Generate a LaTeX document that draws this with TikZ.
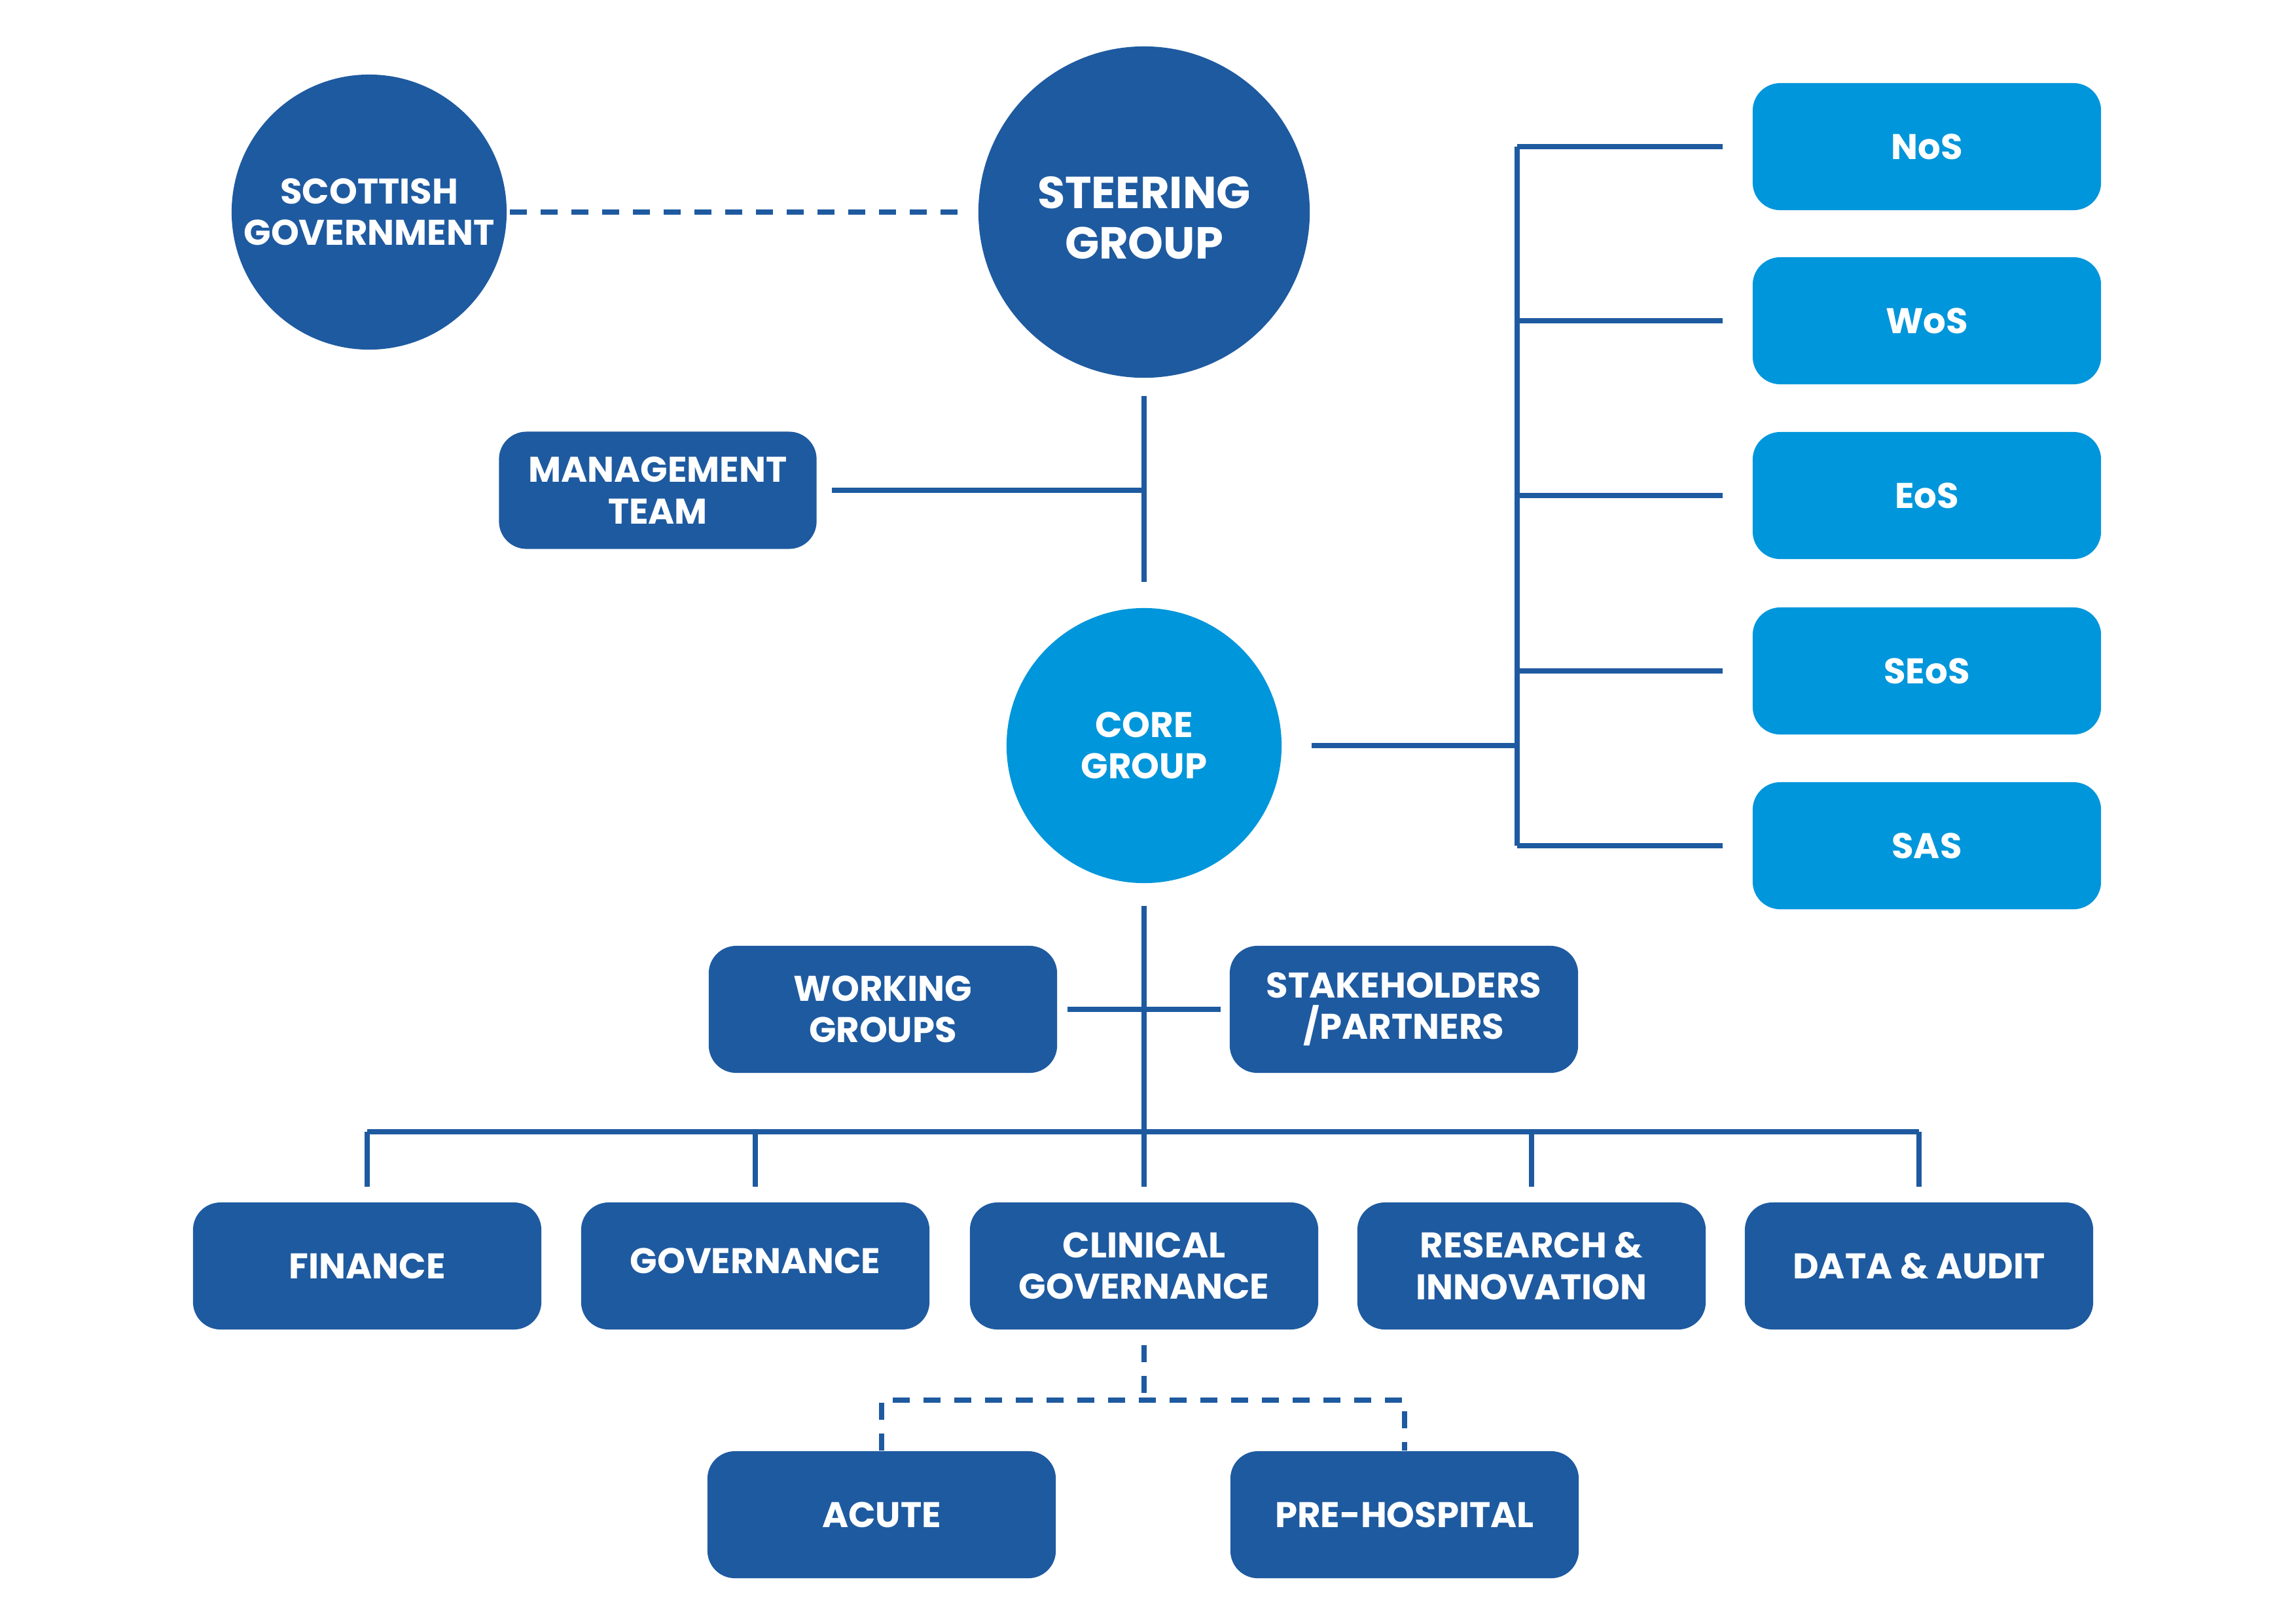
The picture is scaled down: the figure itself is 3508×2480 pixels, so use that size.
\documentclass[tikz,border=0pt]{standalone}
\usepackage{fontspec}
\setmainfont{Poppins}
\definecolor{dblue}{RGB}{30,90,160}
\definecolor{lblue}{RGB}{0,150,219}
\tikzset{
  lab/.style={text=white, font=\bfseries\fontsize{15.5}{18}\selectfont, align=center, inner sep=0pt},
  circ/.style={lab, circle, fill=#1, draw=none},
  box/.style={lab, rectangle, rounded corners=0.42cm, fill=#1, draw=none, minimum width=5.32cm, minimum height=1.94cm},
  conn/.style={draw=dblue, line width=0.08cm},
  dconn/.style={conn, dash pattern=on 0.26cm off 0.21cm}
}
\begin{document}
\begin{tikzpicture}[x=0.01cm,y=-0.01cm]
\useasboundingbox (0,0) rectangle (3508,2480);
% top
\node[circ=dblue, minimum size=4.2cm] (sg) at (564,324) {SCOTTISH\\GOVERNMENT};
\node[circ=dblue, minimum size=5.06cm] (steer) at (1748,324) {};
\node[lab, font=\bfseries\fontsize{19.5}{22}\selectfont] (steertxt) at (1748,333) {STEERING\\GROUP};
\node[box=dblue, minimum width=4.85cm, minimum height=1.79cm] (mgmt) at (1005,749) {MANAGEMENT\\TEAM};
\node[circ=lblue, minimum size=4.2cm] (core) at (1748,1139) {CORE\\GROUP};
% regions
\node[box=lblue] (nos) at (2944,224) {NoS};
\node[box=lblue] (wos) at (2944,490) {WoS};
\node[box=lblue] (eos) at (2944,757) {EoS};
\node[box=lblue] (seos) at (2944,1025) {SEoS};
\node[box=lblue] (sas) at (2944,1292) {SAS};
% middle
\node[box=dblue] (work) at (1349,1542) {WORKING\\GROUPS};
\node[box=dblue] (stake) at (2145,1542) {STAKEHOLDERS\\/PARTNERS};
% bottom row
\node[box=dblue] (fin) at (561,1934) {FINANCE};
\node[box=dblue] (gov) at (1154,1934) {};
\node[lab] (govtxt) at (1154,1926) {GOVERNANCE};
\node[box=dblue] (clin) at (1748,1934) {CLINICAL\\GOVERNANCE};
\node[box=dblue] (res) at (2340,1934) {RESEARCH \&\\INNOVATION};
\node[box=dblue] (data) at (2932,1934) {DATA \& AUDIT};
% sub
\node[box=dblue] (acute) at (1347,2314) {ACUTE};
\node[box=dblue] (pre) at (2146,2314) {PRE-HOSPITAL};
% coordinates
\coordinate (rbus) at (2318,0);
\coordinate (bbus) at (0,1729);
\coordinate (dbus) at (0,2139);
% connectors
\draw[dconn, shorten <=0.04cm, shorten >=0.1cm] (sg.east) -- (steer.west);
\draw[conn, shorten <=0.27cm, shorten >=0.39cm] (steer.south) -- (core.north);
\draw[conn, shorten <=0.23cm] (mgmt.east) -- (mgmt.east -| steer.south);
\draw[conn, shorten <=0.45cm] (core.east) -- (core.east -| rbus);
\draw[conn] (rbus |- nos.west) -- (rbus |- sas.west);
\foreach \n in {nos,wos,eos,seos,sas}{
  \draw[conn, shorten >=0.45cm] (rbus |- \n.west) -- (\n.west);
}
\draw[conn, shorten <=0.34cm] (core.south) -- (core.south |- bbus);
\draw[conn, shorten <=0.15cm, shorten >=0.13cm] (work.east) -- (stake.west);
\draw[conn] (fin.north |- bbus) -- (data.north |- bbus);
\foreach \n in {fin,gov,clin,res,data}{
  \draw[conn, shorten >=0.23cm] (\n.north |- bbus) -- (\n.north);
}
\draw[dconn, shorten <=0.23cm] (clin.south) -- (clin.south |- dbus);
\draw[dconn] (acute.north) -- (acute.north |- dbus) -- (pre.north |- dbus) -- (pre.north);
\end{tikzpicture}
\end{document}
